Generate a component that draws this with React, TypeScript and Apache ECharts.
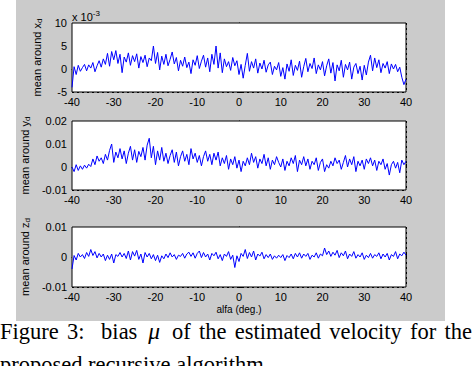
import React, { useEffect, useRef } from "react";
import * as echarts from "echarts";

// x grid: alfa (deg.) from -40 to 40 in steps of 0.5
const X_START = -40;
const X_STEP = 0.5;
const X_TICKS = [-40, -30, -20, -10, 0, 10, 20, 30, 40];

// mean around x_d (units of 1e-3)
const xdValues = [
  -4.0, 0.5, -1.2, 0.8, -0.5, 0.3, 1.0, -0.4, 0.9, 0.2, 1.4, -0.6, 0.7, 1.8, 0.4, 2.2, 1.0, 3.4, 0.6, 3.8,
  2.0, 4.0, 1.2, 3.2, -0.8, 2.6, 1.5, 3.5, 0.8, 2.9, 1.6, 3.3, 0.2, 2.7, 1.4, 3.0, 0.5, 2.4, 1.8, 5.0,
  1.2, 3.6, -0.2, 2.8, 1.0, 3.2, 0.7, 2.1, 3.7, 1.1, 2.5, -0.4, 1.9, 0.6, 2.6, 0.3, 1.5, -1.0, 2.0, 0.8,
  2.9, 0.1, 1.7, 3.0, 0.4, 2.4, -0.6, 3.2, 1.0, 5.0, 0.2, 3.5, -0.8, 2.2, 0.5, 1.6, -0.3, 2.5, 0.7, 1.8,
  -1.2, 1.0, -2.0, 0.8, 3.4, -0.5, 1.6, 0.2, 2.2, -0.9, 1.3, 0.0, 1.9, -0.7, 0.9, 1.5, -1.2, 0.6, -0.2, 1.4,
  -1.6, 0.3, -2.2, 1.1, -0.5, 2.0, -1.4, 0.8, -0.3, 1.7, -1.8, 0.5, 2.3, -0.6, 1.2, 0.1, 2.4, -1.0, 0.9, -0.2,
  1.6, -1.5, 0.7, 2.2, -0.9, 1.4, -2.6, 0.9, -0.4, 1.9, -1.8, 1.0, -0.2, 1.5, -2.2, 0.4, 1.2, -1.0, 0.6, -2.4,
  0.8, -1.3, 1.5, 3.0, -0.4, 2.4, 0.3, 2.0, -0.8, 1.2, 0.2, 1.6, -1.0, 1.1, 0.0, 1.0, -0.6, 0.4, -1.8, -3.4,
  -2.2,
];

// mean around y_d
const ydValues = [
  0.0, -0.002, 0.001, -0.0015, 0.0005, -0.001, 0.0008, -0.0005, 0.0012, 0.0002, 0.0035, 0.001, 0.0048, 0.0025, 0.004, 0.0015, 0.0055, 0.003, 0.0072, 0.01,
  0.002, 0.0065, 0.004, 0.008, 0.0035, 0.007, 0.0015, 0.006, 0.009, 0.003, 0.0075, 0.002, 0.0068, 0.0045, 0.0085, 0.003, 0.0095, 0.0125, 0.004, 0.009,
  0.001, 0.007, 0.003, 0.0085, 0.0025, 0.006, 0.0015, 0.005, 0.0075, 0.002, 0.0065, 0.0005, 0.0045, 0.007, 0.0025, 0.0055, 0.001, 0.008, 0.0035, 0.006,
  0.002, 0.005, 0.0005, 0.0045, 0.007, 0.0025, 0.0055, 0.001, 0.006, 0.003, 0.0065, 0.0005, 0.004, 0.0015, 0.005, -0.001, 0.0035, 0.001, 0.0045, -0.0005,
  0.003, -0.002, 0.0025, 0.0005, 0.004, 0.001, 0.006, 0.002, 0.0045, -0.0005, 0.0035, 0.0015, 0.0055, 0.0005, 0.004, -0.001, 0.003, 0.001, 0.0045, 0.002,
  0.0, 0.0035, -0.0015, 0.0025, 0.0005, 0.004, 0.0015, 0.005, -0.002, 0.003, 0.001, 0.0045, 0.0005, 0.0035, -0.001, 0.0025, 0.001, 0.004, -0.0015, 0.002,
  0.0035, -0.002, 0.001, -0.0005, 0.0025, 0.0005, 0.004, 0.0015, 0.003, -0.001, 0.002, 0.005, 0.0, 0.0035, 0.001, 0.0045, -0.002, 0.0025, 0.0005, 0.003,
  -0.001, 0.0035, 0.0015, 0.004, 0.0005, 0.003, -0.0015, 0.0025, 0.001, 0.0035, -0.001, 0.0015, -0.0035, 0.001, 0.0025, -0.0005, 0.002, -0.0025, 0.003, 0.001,
  0.0025,
];

// mean around z_d
const zdValues = [
  -0.004, 0.0005, -0.001, 0.0012, 0.0, 0.0008, -0.0005, 0.0015, 0.0002, 0.0025, 0.0005, 0.0018, -0.0003, 0.0012, 0.0, 0.001, -0.0012, 0.0006, -0.0008, 0.001,
  -0.002, 0.0008, 0.0002, 0.0015, 0.0, 0.0012, -0.0005, 0.002, -0.001, 0.0018, 0.0003, 0.0022, -0.0008, 0.001, -0.002, 0.0015, 0.0, 0.0012, -0.0006, 0.0008,
  -0.0012, 0.0006, -0.0018, 0.0004, -0.0006, 0.001, -0.0002, 0.0014, 0.0, 0.0008, -0.0008, 0.0006, 0.0002, 0.0012, -0.0004, 0.001, 0.0016, 0.0002, 0.0014, -0.0004,
  0.0012, 0.002, -0.0002, 0.0015, 0.0, 0.001, -0.001, 0.0012, 0.0004, 0.0016, -0.0006, 0.0008, -0.0012, 0.001, 0.0002, 0.0018, -0.0008, 0.0006, -0.0035, 0.0004,
  -0.0015, 0.0012, 0.0002, 0.0025, -0.0005, 0.0015, 0.0, 0.002, -0.001, 0.001, 0.0003, 0.0016, -0.0006, 0.0008, -0.0002, 0.001, -0.0008, 0.0004, -0.0004, 0.0006,
  -0.0002, 0.0008, -0.0012, 0.0005, -0.0002, 0.001, -0.0006, 0.0012, 0.0, 0.0014, -0.0004, 0.001, 0.0002, 0.0012, -0.0008, 0.0006, 0.0, 0.0014, -0.0004, 0.001,
  0.0004, 0.003, 0.0008, 0.002, 0.0002, 0.0016, 0.0006, 0.0022, -0.0002, 0.0014, 0.0004, 0.002, -0.0006, 0.001, 0.0002, 0.0018, -0.0004, 0.0008, 0.0, 0.0014,
  -0.0008, 0.0006, -0.0002, 0.0012, -0.0004, 0.0008, 0.0002, 0.0014, -0.0006, 0.001, 0.0, 0.0012, -0.001, 0.0008, 0.0002, 0.0018, -0.0006, 0.001, 0.0004, 0.0016,
  0.0006,
];

const Y1_TICKS = [-5, 0, 5, 10];
const Y2_TICKS = [-0.01, 0, 0.01, 0.02];
const Y3_TICKS = [-0.01, 0, 0.01];

// caption words (justified line) and relative gap weights after each word
const CAPTION_WORDS = ["Figure", "3:", "bias", "μ", "of", "the", "estimated", "velocity", "for", "the"];
const CAPTION_GAPS = [1, 2, 1.3, 1.5, 1, 1, 1, 1, 1];
const CAPTION_LINE2 = "proposed recursive algorithm";

const SANS = "'Liberation Sans', Arial, sans-serif";
const SERIF = "'Liberation Serif', 'Times New Roman', serif";
const CAP_SIZE = 22.5;

const toPairs = (vals: number[]) => vals.map((v, i) => [X_START + i * X_STEP, v]);

function captionLayout(lineWidth: number) {
  const canvas = document.createElement("canvas");
  const ctx = canvas.getContext("2d");
  const widths = CAPTION_WORDS.map((w, i) => {
    if (!ctx) return w.length * CAP_SIZE * 0.45;
    ctx.font = `${i === 3 ? "italic " : ""}${CAP_SIZE}px ${SERIF}`;
    return ctx.measureText(w).width;
  });
  const total = widths.reduce((a, b) => a + b, 0);
  const wsum = CAPTION_GAPS.reduce((a, b) => a + b, 0);
  const unit = (lineWidth - total) / wsum;
  const xs: number[] = [];
  let x = 0;
  widths.forEach((w, i) => {
    xs.push(x);
    x += w + (i < CAPTION_GAPS.length ? CAPTION_GAPS[i] * unit : 0);
  });
  return xs;
}

export default function App() {
  const ref = useRef<HTMLDivElement>(null);

  useEffect(() => {
    if (!ref.current) return;
    const chart = echarts.init(ref.current, undefined, { renderer: "svg" });

    const grids = [
      { left: 72, top: 23, width: 334, height: 69 },
      { left: 72, top: 121, width: 334, height: 69 },
      { left: 72, top: 227, width: 334, height: 60 },
    ].map((g) => ({
      ...g,
      show: true,
      backgroundColor: "#ffffff",
      borderColor: "#000000",
      borderWidth: 1,
      z: 1,
    }));

    const fmt = (v: number) => {
      const r = Math.round(v * 1000) / 1000;
      return r === 0 ? "0" : String(r);
    };

    const xAxisBase = (i: number) => ({
      type: "value" as const,
      gridIndex: i,
      min: X_TICKS[0],
      max: X_TICKS[X_TICKS.length - 1],
      interval: X_TICKS[1] - X_TICKS[0],
      axisLine: { show: true, lineStyle: { color: "#000", width: 1 } },
      axisTick: { show: true, inside: true, length: 3, lineStyle: { color: "#000" } },
      axisLabel: { color: "#000", fontSize: 11, fontFamily: SANS, margin: 4 },
      splitLine: { show: true, lineStyle: { color: "#000", type: [2, 3], width: 1 } },
    });

    const yName = (base: string) => ({
      name: `{n|mean around ${base}}{s|d}`,
      nameLocation: "middle" as const,
      nameRotate: 90,
      nameGap: 29,
      nameTextStyle: {
        rich: {
          n: { fontSize: 11, fontFamily: SANS, color: "#000" },
          s: { fontSize: 8, fontFamily: SANS, color: "#000", verticalAlign: "bottom", padding: [5, 0, 0, 0] },
        },
      },
    });

    const yAxisBase = (i: number, ticks: number[], nameBase: string) => ({
      type: "value" as const,
      gridIndex: i,
      min: ticks[0],
      max: ticks[ticks.length - 1],
      interval: ticks[1] - ticks[0],
      axisLine: { show: true, lineStyle: { color: "#000", width: 1 } },
      axisTick: { show: true, inside: true, length: 3, lineStyle: { color: "#000" } },
      axisLabel: { color: "#000", fontSize: 11, fontFamily: SANS, margin: 5, formatter: fmt },
      splitLine: { show: true, lineStyle: { color: "#000", type: [2, 3], width: 1 } },
      ...yName(nameBase),
    });

    const seriesBase = (i: number, vals: number[]) => ({
      type: "line" as const,
      xAxisIndex: i,
      yAxisIndex: i,
      data: toPairs(vals),
      showSymbol: false,
      symbol: "none",
      lineStyle: { color: "#0000ff", width: 1 },
      z: 3,
    });

    const capXs = captionLayout(472);
    const captionTexts = CAPTION_WORDS.map((w, i) => ({
      type: "text" as const,
      x: capXs[i],
      y: 331,
      style: {
        text: w,
        fontSize: i === 3 ? CAP_SIZE + 1 : CAP_SIZE,
        fontStyle: i === 3 ? "italic" : "normal",
        fontFamily: SERIF,
        fill: "#000",
        verticalAlign: "middle" as const,
      },
    }));

    chart.setOption({
      animation: false,
      backgroundColor: "#ffffff",
      grid: grids,
      xAxis: [xAxisBase(0), xAxisBase(1), xAxisBase(2)],
      yAxis: [
        yAxisBase(0, Y1_TICKS, "x"),
        yAxisBase(1, Y2_TICKS, "y"),
        yAxisBase(2, Y3_TICKS, "z"),
      ],
      series: [seriesBase(0, xdValues), seriesBase(1, ydValues), seriesBase(2, zdValues)],
      graphic: [
        {
          type: "rect",
          z: -10,
          silent: true,
          shape: { x: 16, y: 0, width: 429, height: 321 },
          style: { fill: "#cbcbcb" },
        },
        {
          type: "text",
          x: 72,
          y: 17,
          style: {
            text: "x 10{sup|-3}",
            fontSize: 11,
            fontFamily: SANS,
            fill: "#000",
            verticalAlign: "middle",
            rich: { sup: { fontSize: 8, fontFamily: SANS, verticalAlign: "top", padding: [0, 0, 8, 0] } },
          },
        },
        {
          type: "text",
          x: 239,
          y: 309,
          style: {
            text: "alfa (deg.)",
            fontSize: 10,
            fontFamily: SANS,
            fill: "#000",
            align: "center",
            verticalAlign: "middle",
          },
        },
        ...captionTexts,
        {
          type: "text",
          x: 0,
          y: 364,
          style: {
            text: CAPTION_LINE2,
            fontSize: CAP_SIZE,
            fontFamily: SERIF,
            fill: "#000",
            verticalAlign: "middle",
          },
        },
      ],
    });

    return () => chart.dispose();
  }, []);

  return (
    <div
      ref={ref}
      style={{ position: "fixed", left: 0, top: 0, width: 474, height: 366 }}
    />
  );
}
